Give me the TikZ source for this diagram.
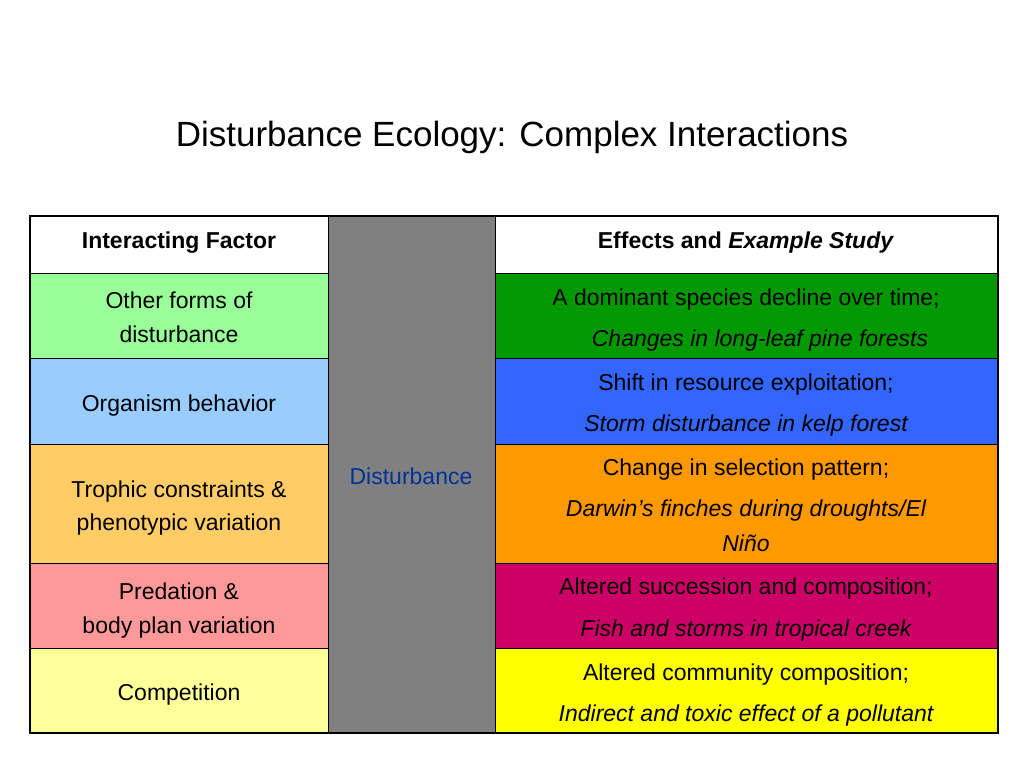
\documentclass[tikz,border=0pt]{standalone}
\usepackage{fontspec}
\setmainfont{Liberation Sans}
\begin{document}
\begin{tikzpicture}[x=1pt,y=-1pt,
  t/.style={font=\fontsize{23}{27}\selectfont, inner sep=0pt, anchor=base},
  ti/.style={t, font=\fontsize{23}{27}\selectfont\itshape},
  cell/.style={draw=black, line width=0.8pt}]
\useasboundingbox (0,0) rectangle (1024,768);
\definecolor{lg}{HTML}{99FF99}\definecolor{dg}{HTML}{009900}
\definecolor{lb}{HTML}{99CCFF}\definecolor{db}{HTML}{3366FF}
\definecolor{lo}{HTML}{FFCC66}\definecolor{do}{HTML}{FF9900}
\definecolor{lp}{HTML}{FF9999}\definecolor{dp}{HTML}{CC0066}
\definecolor{ly}{HTML}{FFFF99}\definecolor{dy}{HTML}{FFFF00}
\definecolor{dist}{HTML}{003399}
\node[t, font=\fontsize{35}{40}\selectfont] (title) at (512,146) {Disturbance Ecology: Complex Interactions};
% cells
\fill[white] (30,216) rectangle (328,273); \fill[white] (495,216) rectangle (998,273);
\fill[lg] (30,273) rectangle (328,358); \fill[dg] (495,273) rectangle (998,358);
\fill[lb] (30,358) rectangle (328,444); \fill[db] (495,358) rectangle (998,444);
\fill[lo] (30,444) rectangle (328,563); \fill[do] (495,444) rectangle (998,563);
\fill[lp] (30,563) rectangle (328,648); \fill[dp] (495,563) rectangle (998,648);
\fill[ly] (30,648) rectangle (328,733); \fill[dy] (495,648) rectangle (998,733);
\fill[gray!100!black, fill=gray] (328,216) rectangle (495,733);
\foreach \y in {273,358,444,563,648}{\draw[line width=0.8pt] (30,\y) -- (328,\y); \draw[line width=0.8pt] (495,\y) -- (998,\y);}
\draw[line width=0.8pt] (328,216) -- (328,733) (495,216) -- (495,733);
\draw[line width=1.8pt] (30,216) rectangle (998,733);
% texts
\node[t, font=\fontsize{23}{27}\selectfont\bfseries] (h1) at (179,248) {Interacting Factor};
\node[t, font=\fontsize{23}{27}\selectfont\bfseries] (h2) at (746,248) {Effects and \textit{Example Study}};
\node[t] (l1a) at (179,308) {Other forms of};
\node[t] (l1b) at (179,342) {disturbance};
\node[t] (l2) at (179,411) {Organism behavior};
\node[t] (l3a) at (179,497) {Trophic constraints \&};
\node[t] (l3b) at (179,530) {phenotypic variation};
\node[t] (l4a) at (179,599) {Predation \&};
\node[t] (l4b) at (179,633) {body plan variation};
\node[t] (l5) at (179,700) {Competition};
\node[t, text=dist] (d) at (411,484) {Disturbance};
\node[t] (r1a) at (746,305) {A dominant species decline over time;};
\node[ti] (r1b) at (760,346) {Changes in long-leaf pine forests};
\node[t] (r2a) at (746,390) {Shift in resource exploitation;};
\node[ti] (r2b) at (746,431) {Storm disturbance in kelp forest};
\node[t] (r3a) at (746,475) {Change in selection pattern;};
\node[ti] (r3b) at (746,516) {Darwin’s finches during droughts/El};
\node[ti] (r3c) at (746,551) {Niño};
\node[t] (r4a) at (746,594) {Altered succession and composition;};
\node[ti] (r4b) at (746,636) {Fish and storms in tropical creek};
\node[t] (r5a) at (746,680) {Altered community composition;};
\node[ti] (r5b) at (746,721) {Indirect and toxic effect of a pollutant};
\end{tikzpicture}
\end{document}
